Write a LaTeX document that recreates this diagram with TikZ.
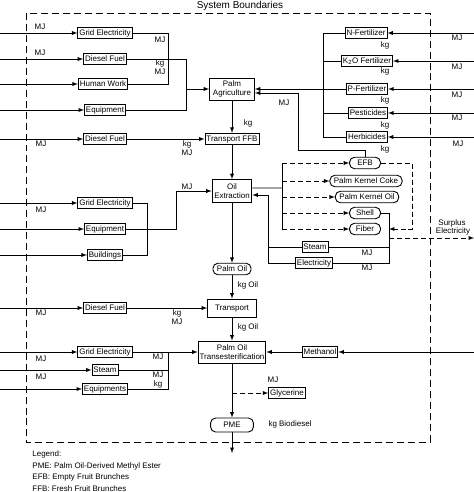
\documentclass[tikz,border=0pt]{standalone}
\usepackage{fontspec}
\setmainfont{Liberation Sans}
\begin{document}
\begin{tikzpicture}
  [x=1bp,y=-1bp,line width=.9pt,>=latex,font=\fontsize{8}{9}\selectfont,
   box/.style={draw,fill=white,inner xsep=1.5pt,inner ysep=2pt,text height=6pt,text depth=1.5pt},
   twoline/.style={draw,fill=white,align=center,inner sep=1.5pt},
   prod/.style={draw,fill=white,rounded corners=5pt,inner xsep=4pt,inner ysep=2pt,
     minimum width=31pt,text height=6pt,text depth=1.5pt},
   lbl/.style={inner sep=0pt,text height=6pt,text depth=1.5pt},
   flow/.style={->,dash pattern=on 5pt off 3pt}]
  \useasboundingbox (0,0) rectangle (474,492);
  \draw[dash pattern=on 7pt off 4pt] (26,13) rectangle (430,442);
  \node[lbl,font=\fontsize{10}{12}\selectfont] (title) at (240,6.5) {System Boundaries};

  \node[box] (ge1) at (105,33)  {Grid Electricity};
  \node[box] (df1) at (105,59)  {Diesel Fuel};
  \node[box] (hw)  at (103,84)  {Human Work};
  \node[box] (eq1) at (105,110) {Equipment};
  \node[twoline,minimum width=45pt,minimum height=22pt] (pa) at (232,89) {Palm\\Agriculture};
  \node[box] (nf) at (366,33)  {N-Fertilizer};
  \node[box] (kf) at (367,61)  {K\textsubscript{2}O Fertilizer};
  \node[box] (pf) at (367,89)  {P-Fertilizer};
  \node[box] (pe) at (368,113) {Pesticides};
  \node[box] (he) at (367,137) {Herbicides};
  \node[box] (df2) at (105,139) {Diesel Fuel};
  \node[box] (tf)  at (232,139) {Transport FFB};
  \node[twoline,minimum width=40pt,minimum height=23pt] (oe) at (232,191) {Oil\\Extraction};
  \node[box] (ge2) at (105,203) {Grid Electricity};
  \node[box] (eq2) at (105,229) {Equipment};
  \node[box] (bu)  at (105,255) {Buildings};
  \node[prod] (efb) at (365,163) {EFB};
  \node[prod] (pkc) at (366,181) {Palm Kernel Coke};
  \node[prod] (pko) at (367,197) {Palm Kernel Oil};
  \node[prod] (sh)  at (365,213) {Shell};
  \node[prod] (fi)  at (365,229) {Fiber};
  \node[box] (st) at (315,247) {Steam};
  \node[box] (el) at (314,263) {Electricity};
  \node[prod] (po) at (232,269) {Palm Oil};
  \node[box,minimum width=49pt,minimum height=18pt] (tr) at (232,308) {Transport};
  \node[box] (df3) at (105,308) {Diesel Fuel};
  \node[twoline,minimum width=68pt,minimum height=22pt] (pt) at (232,352) {Palm Oil\\Transesterification};
  \node[box] (me)  at (320,352) {Methanol};
  \node[box] (ge3) at (105,352) {Grid Electricity};
  \node[box] (st2) at (105,370) {Steam};
  \node[box] (eq3) at (105,389) {Equipments};
  \node[box] (gl)  at (287,393) {Glycerine};
  \node[prod,minimum width=43pt,minimum height=14pt] (pme) at (232,425) {PME};

  \coordinate (w) at (0,0);
  \coordinate (e) at (474,0);
  \coordinate (k1) at (168,0);
  \coordinate (k2) at (186,0);
  \coordinate (k3) at (323,0);
  \coordinate (k4) at (176,0);
  \coordinate (k5) at (298,150);
  \coordinate (k6) at (147,0);
  \coordinate (k7) at (282,188);
  \coordinate (k8) at (412,0);
  \coordinate (k9) at (389,0);
  \coordinate (k10) at (268,195);
  \coordinate (s1) at (389,238);
  \coordinate (out) at (232,453);

  \foreach \n in {ge1,df1,hw,eq1,df2,ge2,eq2,bu,df3,ge3,st2,eq3}
    \draw[->] (w |- \n) -- (\n);
  \foreach \n in {nf,kf,pf,pe,he,me}
    \draw[->] (e |- \n) -- (\n);

  \draw (ge1) -| (k1 |- hw) -- (hw);
  \draw (df1) -| (k2 |- eq1) -- (eq1);
  \draw[->] (k2 |- pa) -- (pa);
  \draw (nf) -| (k3 |- he) -- (he);
  \foreach \n in {kf,pe}
    \draw (\n) -- (k3 |- \n);
  \draw[->] (pf) -- (pa);
  \draw[->] (efb) |- (k5) |- ([yshift=-4pt]pa.east);
  \draw[->] (pa) -- (tf);
  \draw[->] (df2) -- (tf);
  \draw[->] (tf) -- (oe);
  \draw (ge2) -| (k6 |- bu) -- (bu);
  \draw[->] (eq2) -| (k4 |- oe) -- (oe);

  % by-products
  \draw ([yshift=3pt]oe.east) -- (k7);
  \draw (k7 |- efb) -- (k7 |- fi);
  \foreach \n in {efb,pkc,pko,sh,fi}
    \draw[flow] (k7 |- \n) -- (\n);
  \draw[flow] (efb) -| (k8 |- fi) -- (k9 |- fi);
  \draw[->] (sh) -| (k9 |- el) -- (el) -- (k10 |- el) -- (k10) -- (k10 -| oe.east);
  \draw (k10 |- st) -- (st) -- (k9 |- st);
  \draw[flow] (s1) -- (e |- s1);

  \draw[->] (oe) -- (po);
  \draw[->] (po) -- (tr);
  \draw[->] (df3) -- (tr);
  \draw[->] (tr) -- (pt);
  \draw[->] (ge3) -- (pt);
  \draw (st2) -- (k1 |- st2);
  \draw (eq3) -| (k1 |- ge3);
  \draw[->] (me) -- (pt);
  \draw[flow] (pt |- gl) -- (gl);
  \draw[->] (pt) -- (pme);
  \draw[->] (pme) -- (out);

  \foreach \x/\y/\t [count=\i] in {40/27/MJ, 40/53/MJ, 160/40/MJ, 160/63/kg, 160/72/MJ,
      457/38/MJ, 457/67/MJ, 457/95/MJ, 457/118/MJ, 458/144/MJ,
      385/45/kg, 385/71/kg, 385/100/kg, 385/125/kg, 385/149/kg,
      284/103/MJ, 248/123/kg, 41/144/MJ, 187/144/kg, 187/153/MJ,
      187/187/MJ, 41/210/MJ, 367/253/MJ, 367/268/MJ,
      452/223/Surplus, 453/231/Electricity, 248/285/kg Oil, 248/327/kg Oil,
      41/313/MJ, 177/313/kg, 177/322/MJ, 158/357/MJ, 41/359/MJ,
      158/375/MJ, 158/384/kg, 41/377/MJ, 273/380/MJ, 290/424/kg Biodiesel}
    \node[lbl] (m\i) at (\x,\y) {\t};

  \foreach \t [count=\i] in {Legend:, PME: Palm Oil-Derived Methyl Ester,
      EFB: Empty Fruit Brunches, FFB: Fresh Fruit Brunches}
    \node[lbl,anchor=west] (leg\i) at (32,442.5+11.7*\i) {\t};
\end{tikzpicture}
\end{document}
